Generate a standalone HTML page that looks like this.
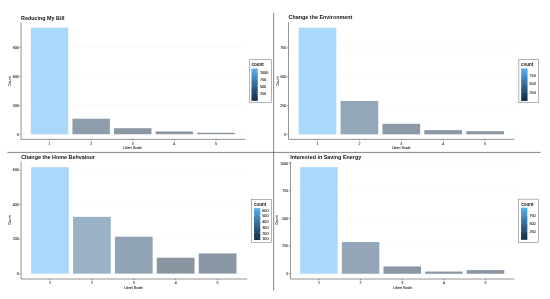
<!DOCTYPE html>
<html><head><meta charset="utf-8"><title>Likert charts</title>
<style>html,body{margin:0;padding:0;background:#fff;overflow:hidden}svg{display:block}</style></head>
<body>
<svg width="550" height="299" viewBox="0 0 550 299">
<defs><linearGradient id="g" x1="0" y1="0" x2="0" y2="1"><stop offset="0.0" stop-color="#56b1f7"/><stop offset="0.1" stop-color="#4fa2e3"/><stop offset="0.2" stop-color="#4894d0"/><stop offset="0.3" stop-color="#4186bd"/><stop offset="0.4" stop-color="#3a78aa"/><stop offset="0.5" stop-color="#336a98"/><stop offset="0.6" stop-color="#2c5d86"/><stop offset="0.7" stop-color="#265075"/><stop offset="0.8" stop-color="#1f4364"/><stop offset="0.9" stop-color="#193753"/><stop offset="1.0" stop-color="#132b43"/></linearGradient></defs>
<rect width="550" height="299" fill="#fff"/>
<line x1="273.65" x2="273.65" y1="13" y2="290.5" stroke="#333" stroke-width="0.6"/>
<line x1="7.4" x2="540.6" y1="152.4" y2="152.4" stroke="#333" stroke-width="0.6"/>
<text x="21" y="19.5" font-size="5.4" font-weight="bold" fill="#111" font-family="Liberation Sans, Arial, sans-serif">Reducing My Bill</text>
<line x1="21.05" x2="246" y1="134.20" y2="134.20" stroke="#f6f6f6" stroke-width="0.6"/>
<line x1="21.05" x2="246" y1="105.20" y2="105.20" stroke="#f6f6f6" stroke-width="0.6"/>
<line x1="21.05" x2="246" y1="76.20" y2="76.20" stroke="#f6f6f6" stroke-width="0.6"/>
<line x1="21.05" x2="246" y1="47.20" y2="47.20" stroke="#f6f6f6" stroke-width="0.6"/>
<rect x="30.83" y="27.67" width="37.44" height="106.53" fill="#aad8fb"/>
<line x1="49.55" x2="49.55" y1="139.4" y2="140.6" stroke="#3a3a3a" stroke-width="0.5"/>
<text x="49.55" y="144.70" font-size="3.6" text-anchor="middle" fill="#333" stroke="#333" stroke-width="0.1" font-family="Liberation Sans, Arial, sans-serif">1</text>
<rect x="72.43" y="118.73" width="37.44" height="15.47" fill="#8d9dac"/>
<line x1="91.15" x2="91.15" y1="139.4" y2="140.6" stroke="#3a3a3a" stroke-width="0.5"/>
<text x="91.15" y="144.70" font-size="3.6" text-anchor="middle" fill="#333" stroke="#333" stroke-width="0.1" font-family="Liberation Sans, Arial, sans-serif">2</text>
<rect x="114.03" y="128.21" width="37.44" height="5.99" fill="#8a98a4"/>
<line x1="132.75" x2="132.75" y1="139.4" y2="140.6" stroke="#3a3a3a" stroke-width="0.5"/>
<text x="132.75" y="144.70" font-size="3.6" text-anchor="middle" fill="#333" stroke="#333" stroke-width="0.1" font-family="Liberation Sans, Arial, sans-serif">3</text>
<rect x="155.63" y="131.49" width="37.44" height="2.71" fill="#8a96a2"/>
<line x1="174.35" x2="174.35" y1="139.4" y2="140.6" stroke="#3a3a3a" stroke-width="0.5"/>
<text x="174.35" y="144.70" font-size="3.6" text-anchor="middle" fill="#333" stroke="#333" stroke-width="0.1" font-family="Liberation Sans, Arial, sans-serif">4</text>
<rect x="197.23" y="132.75" width="37.44" height="1.45" fill="#8995a1"/>
<line x1="215.95" x2="215.95" y1="139.4" y2="140.6" stroke="#3a3a3a" stroke-width="0.5"/>
<text x="215.95" y="144.70" font-size="3.6" text-anchor="middle" fill="#333" stroke="#333" stroke-width="0.1" font-family="Liberation Sans, Arial, sans-serif">5</text>
<path d="M21.05 22.4 V139.4 H245" fill="none" stroke="#3a3a3a" stroke-width="0.55"/>
<line x1="19.45" x2="20.650000000000002" y1="134.50" y2="134.50" stroke="#3a3a3a" stroke-width="0.5"/>
<text x="18.85" y="135.80" font-size="3.6" text-anchor="end" fill="#333" stroke="#333" stroke-width="0.1" font-family="Liberation Sans, Arial, sans-serif">0</text>
<line x1="19.45" x2="20.650000000000002" y1="105.50" y2="105.50" stroke="#3a3a3a" stroke-width="0.5"/>
<text x="18.85" y="106.80" font-size="3.6" text-anchor="end" fill="#333" stroke="#333" stroke-width="0.1" font-family="Liberation Sans, Arial, sans-serif">300</text>
<line x1="19.45" x2="20.650000000000002" y1="76.50" y2="76.50" stroke="#3a3a3a" stroke-width="0.5"/>
<text x="18.85" y="77.80" font-size="3.6" text-anchor="end" fill="#333" stroke="#333" stroke-width="0.1" font-family="Liberation Sans, Arial, sans-serif">600</text>
<line x1="19.45" x2="20.650000000000002" y1="47.50" y2="47.50" stroke="#3a3a3a" stroke-width="0.5"/>
<text x="18.85" y="48.80" font-size="3.6" text-anchor="end" fill="#333" stroke="#333" stroke-width="0.1" font-family="Liberation Sans, Arial, sans-serif">900</text>
<text x="132.33" y="148.90" font-size="3.6" text-anchor="middle" fill="#333" stroke="#333" stroke-width="0.1" font-family="Liberation Sans, Arial, sans-serif">Likert Scale</text>
<text transform="translate(10.8 81.30) rotate(-90)" font-size="3.6" text-anchor="middle" fill="#333" stroke="#333" stroke-width="0.1" font-family="Liberation Sans, Arial, sans-serif">Count</text>
<rect x="249.6" y="59.8" width="21.70" height="42.40" fill="#fff" stroke="#444" stroke-width="0.4"/>
<text x="251.5" y="65.7" font-size="4.5" font-weight="bold" fill="#111" font-family="Liberation Sans, Arial, sans-serif">count</text>
<rect x="251.45" y="68.55" width="6.3" height="32.3" fill="url(#g)"/>
<text x="259.9" y="73.71" font-size="3.75" fill="#2a2a2a" stroke="#333" stroke-width="0.1" font-family="Liberation Sans, Arial, sans-serif">1000</text>
<path d="M251.45 71.81h1.2M257.75 71.81h-1.2" stroke="#fff" stroke-width="0.4" opacity="0.7"/>
<text x="259.9" y="80.84" font-size="3.75" fill="#2a2a2a" stroke="#333" stroke-width="0.1" font-family="Liberation Sans, Arial, sans-serif">750</text>
<path d="M251.45 78.94h1.2M257.75 78.94h-1.2" stroke="#fff" stroke-width="0.4" opacity="0.7"/>
<text x="259.9" y="87.97" font-size="3.75" fill="#2a2a2a" stroke="#333" stroke-width="0.1" font-family="Liberation Sans, Arial, sans-serif">500</text>
<path d="M251.45 86.07h1.2M257.75 86.07h-1.2" stroke="#fff" stroke-width="0.4" opacity="0.7"/>
<text x="259.9" y="95.10" font-size="3.75" fill="#2a2a2a" stroke="#333" stroke-width="0.1" font-family="Liberation Sans, Arial, sans-serif">250</text>
<path d="M251.45 93.20h1.2M257.75 93.20h-1.2" stroke="#fff" stroke-width="0.4" opacity="0.7"/>
<text x="288.6" y="19.3" font-size="5.4" font-weight="bold" fill="#111" font-family="Liberation Sans, Arial, sans-serif">Change the Environment</text>
<line x1="288.5" x2="515.3" y1="134.30" y2="134.30" stroke="#f6f6f6" stroke-width="0.6"/>
<line x1="288.5" x2="515.3" y1="105.50" y2="105.50" stroke="#f6f6f6" stroke-width="0.6"/>
<line x1="288.5" x2="515.3" y1="76.70" y2="76.70" stroke="#f6f6f6" stroke-width="0.6"/>
<line x1="288.5" x2="515.3" y1="47.90" y2="47.90" stroke="#f6f6f6" stroke-width="0.6"/>
<rect x="298.64" y="27.62" width="37.71" height="106.68" fill="#aad8fb"/>
<line x1="317.50" x2="317.50" y1="139.4" y2="140.6" stroke="#3a3a3a" stroke-width="0.5"/>
<text x="317.50" y="144.70" font-size="3.6" text-anchor="middle" fill="#333" stroke="#333" stroke-width="0.1" font-family="Liberation Sans, Arial, sans-serif">1</text>
<rect x="340.54" y="101.01" width="37.71" height="33.29" fill="#92a7b9"/>
<line x1="359.40" x2="359.40" y1="139.4" y2="140.6" stroke="#3a3a3a" stroke-width="0.5"/>
<text x="359.40" y="144.70" font-size="3.6" text-anchor="middle" fill="#333" stroke="#333" stroke-width="0.1" font-family="Liberation Sans, Arial, sans-serif">2</text>
<rect x="382.44" y="123.82" width="37.71" height="10.48" fill="#8b99a6"/>
<line x1="401.30" x2="401.30" y1="139.4" y2="140.6" stroke="#3a3a3a" stroke-width="0.5"/>
<text x="401.30" y="144.70" font-size="3.6" text-anchor="middle" fill="#333" stroke="#333" stroke-width="0.1" font-family="Liberation Sans, Arial, sans-serif">3</text>
<rect x="424.34" y="130.15" width="37.71" height="4.15" fill="#8a96a2"/>
<line x1="443.20" x2="443.20" y1="139.4" y2="140.6" stroke="#3a3a3a" stroke-width="0.5"/>
<text x="443.20" y="144.70" font-size="3.6" text-anchor="middle" fill="#333" stroke="#333" stroke-width="0.1" font-family="Liberation Sans, Arial, sans-serif">4</text>
<rect x="466.25" y="131.19" width="37.71" height="3.11" fill="#8995a1"/>
<line x1="485.10" x2="485.10" y1="139.4" y2="140.6" stroke="#3a3a3a" stroke-width="0.5"/>
<text x="485.10" y="144.70" font-size="3.6" text-anchor="middle" fill="#333" stroke="#333" stroke-width="0.1" font-family="Liberation Sans, Arial, sans-serif">5</text>
<path d="M288.5 22.4 V139.4 H514.3" fill="none" stroke="#3a3a3a" stroke-width="0.55"/>
<line x1="286.9" x2="288.1" y1="134.30" y2="134.30" stroke="#3a3a3a" stroke-width="0.5"/>
<text x="286.3" y="135.60" font-size="3.6" text-anchor="end" fill="#333" stroke="#333" stroke-width="0.1" font-family="Liberation Sans, Arial, sans-serif">0</text>
<line x1="286.9" x2="288.1" y1="105.50" y2="105.50" stroke="#3a3a3a" stroke-width="0.5"/>
<text x="286.3" y="106.80" font-size="3.6" text-anchor="end" fill="#333" stroke="#333" stroke-width="0.1" font-family="Liberation Sans, Arial, sans-serif">250</text>
<line x1="286.9" x2="288.1" y1="76.70" y2="76.70" stroke="#3a3a3a" stroke-width="0.5"/>
<text x="286.3" y="78.00" font-size="3.6" text-anchor="end" fill="#333" stroke="#333" stroke-width="0.1" font-family="Liberation Sans, Arial, sans-serif">500</text>
<line x1="286.9" x2="288.1" y1="47.90" y2="47.90" stroke="#3a3a3a" stroke-width="0.5"/>
<text x="286.3" y="49.20" font-size="3.6" text-anchor="end" fill="#333" stroke="#333" stroke-width="0.1" font-family="Liberation Sans, Arial, sans-serif">750</text>
<text x="401.10" y="148.90" font-size="3.6" text-anchor="middle" fill="#333" stroke="#333" stroke-width="0.1" font-family="Liberation Sans, Arial, sans-serif">Likert Scale</text>
<text transform="translate(279.0 81.30) rotate(-90)" font-size="3.6" text-anchor="middle" fill="#333" stroke="#333" stroke-width="0.1" font-family="Liberation Sans, Arial, sans-serif">Count</text>
<rect x="518.9" y="59.65" width="19.75" height="43.15" fill="#fff" stroke="#444" stroke-width="0.4"/>
<text x="521.0" y="65.8" font-size="4.5" font-weight="bold" fill="#111" font-family="Liberation Sans, Arial, sans-serif">count</text>
<rect x="521.15" y="68.45" width="6.4" height="32.5" fill="url(#g)"/>
<text x="529.5" y="76.57" font-size="3.75" fill="#2a2a2a" stroke="#333" stroke-width="0.1" font-family="Liberation Sans, Arial, sans-serif">750</text>
<path d="M521.15 74.67h1.2M527.55 74.67h-1.2" stroke="#fff" stroke-width="0.4" opacity="0.7"/>
<text x="529.5" y="85.19" font-size="3.75" fill="#2a2a2a" stroke="#333" stroke-width="0.1" font-family="Liberation Sans, Arial, sans-serif">500</text>
<path d="M521.15 83.29h1.2M527.55 83.29h-1.2" stroke="#fff" stroke-width="0.4" opacity="0.7"/>
<text x="529.5" y="93.81" font-size="3.75" fill="#2a2a2a" stroke="#333" stroke-width="0.1" font-family="Liberation Sans, Arial, sans-serif">250</text>
<path d="M521.15 91.91h1.2M527.55 91.91h-1.2" stroke="#fff" stroke-width="0.4" opacity="0.7"/>
<text x="21.2" y="158.9" font-size="5.4" font-weight="bold" fill="#111" font-family="Liberation Sans, Arial, sans-serif">Change the Home Behvaiour</text>
<line x1="21.05" x2="248.2" y1="273.60" y2="273.60" stroke="#f6f6f6" stroke-width="0.6"/>
<line x1="21.05" x2="248.2" y1="239.10" y2="239.10" stroke="#f6f6f6" stroke-width="0.6"/>
<line x1="21.05" x2="248.2" y1="204.60" y2="204.60" stroke="#f6f6f6" stroke-width="0.6"/>
<line x1="21.05" x2="248.2" y1="170.10" y2="170.10" stroke="#f6f6f6" stroke-width="0.6"/>
<rect x="31.14" y="167.17" width="37.71" height="106.43" fill="#aad8fb"/>
<line x1="50.00" x2="50.00" y1="279.0" y2="280.2" stroke="#3a3a3a" stroke-width="0.5"/>
<text x="50.00" y="284.30" font-size="3.6" text-anchor="middle" fill="#333" stroke="#333" stroke-width="0.1" font-family="Liberation Sans, Arial, sans-serif">1</text>
<rect x="73.05" y="216.85" width="37.71" height="56.75" fill="#98b2c7"/>
<line x1="91.90" x2="91.90" y1="279.0" y2="280.2" stroke="#3a3a3a" stroke-width="0.5"/>
<text x="91.90" y="284.30" font-size="3.6" text-anchor="middle" fill="#333" stroke="#333" stroke-width="0.1" font-family="Liberation Sans, Arial, sans-serif">2</text>
<rect x="114.95" y="236.69" width="37.71" height="36.91" fill="#90a3b4"/>
<line x1="133.80" x2="133.80" y1="279.0" y2="280.2" stroke="#3a3a3a" stroke-width="0.5"/>
<text x="133.80" y="284.30" font-size="3.6" text-anchor="middle" fill="#333" stroke="#333" stroke-width="0.1" font-family="Liberation Sans, Arial, sans-serif">3</text>
<rect x="156.84" y="257.73" width="37.71" height="15.87" fill="#8995a1"/>
<line x1="175.70" x2="175.70" y1="279.0" y2="280.2" stroke="#3a3a3a" stroke-width="0.5"/>
<text x="175.70" y="284.30" font-size="3.6" text-anchor="middle" fill="#333" stroke="#333" stroke-width="0.1" font-family="Liberation Sans, Arial, sans-serif">4</text>
<rect x="198.75" y="253.42" width="37.71" height="20.18" fill="#8a98a5"/>
<line x1="217.60" x2="217.60" y1="279.0" y2="280.2" stroke="#3a3a3a" stroke-width="0.5"/>
<text x="217.60" y="284.30" font-size="3.6" text-anchor="middle" fill="#333" stroke="#333" stroke-width="0.1" font-family="Liberation Sans, Arial, sans-serif">5</text>
<path d="M21.05 161.5 V279.0 H247.2" fill="none" stroke="#3a3a3a" stroke-width="0.55"/>
<line x1="19.45" x2="20.650000000000002" y1="273.60" y2="273.60" stroke="#3a3a3a" stroke-width="0.5"/>
<text x="18.85" y="274.90" font-size="3.6" text-anchor="end" fill="#333" stroke="#333" stroke-width="0.1" font-family="Liberation Sans, Arial, sans-serif">0</text>
<line x1="19.45" x2="20.650000000000002" y1="239.10" y2="239.10" stroke="#3a3a3a" stroke-width="0.5"/>
<text x="18.85" y="240.40" font-size="3.6" text-anchor="end" fill="#333" stroke="#333" stroke-width="0.1" font-family="Liberation Sans, Arial, sans-serif">200</text>
<line x1="19.45" x2="20.650000000000002" y1="204.60" y2="204.60" stroke="#3a3a3a" stroke-width="0.5"/>
<text x="18.85" y="205.90" font-size="3.6" text-anchor="end" fill="#333" stroke="#333" stroke-width="0.1" font-family="Liberation Sans, Arial, sans-serif">400</text>
<line x1="19.45" x2="20.650000000000002" y1="170.10" y2="170.10" stroke="#3a3a3a" stroke-width="0.5"/>
<text x="18.85" y="171.40" font-size="3.6" text-anchor="end" fill="#333" stroke="#333" stroke-width="0.1" font-family="Liberation Sans, Arial, sans-serif">600</text>
<text x="133.43" y="288.95" font-size="3.6" text-anchor="middle" fill="#333" stroke="#333" stroke-width="0.1" font-family="Liberation Sans, Arial, sans-serif">Likert Scale</text>
<text transform="translate(11.2 220.25) rotate(-90)" font-size="3.6" text-anchor="middle" fill="#333" stroke="#333" stroke-width="0.1" font-family="Liberation Sans, Arial, sans-serif">Count</text>
<rect x="251.4" y="199.2" width="19.80" height="43.10" fill="#fff" stroke="#444" stroke-width="0.4"/>
<text x="254.1" y="205.65" font-size="4.5" font-weight="bold" fill="#111" font-family="Liberation Sans, Arial, sans-serif">count</text>
<rect x="254.00" y="208.10" width="6.3" height="31.95" fill="url(#g)"/>
<text x="262.25" y="211.67" font-size="3.75" fill="#2a2a2a" stroke="#333" stroke-width="0.1" font-family="Liberation Sans, Arial, sans-serif">600</text>
<path d="M254.00 209.77h1.2M260.30 209.77h-1.2" stroke="#fff" stroke-width="0.4" opacity="0.7"/>
<text x="262.25" y="217.39" font-size="3.75" fill="#2a2a2a" stroke="#333" stroke-width="0.1" font-family="Liberation Sans, Arial, sans-serif">500</text>
<path d="M254.00 215.49h1.2M260.30 215.49h-1.2" stroke="#fff" stroke-width="0.4" opacity="0.7"/>
<text x="262.25" y="223.10" font-size="3.75" fill="#2a2a2a" stroke="#333" stroke-width="0.1" font-family="Liberation Sans, Arial, sans-serif">400</text>
<path d="M254.00 221.20h1.2M260.30 221.20h-1.2" stroke="#fff" stroke-width="0.4" opacity="0.7"/>
<text x="262.25" y="228.81" font-size="3.75" fill="#2a2a2a" stroke="#333" stroke-width="0.1" font-family="Liberation Sans, Arial, sans-serif">300</text>
<path d="M254.00 226.91h1.2M260.30 226.91h-1.2" stroke="#fff" stroke-width="0.4" opacity="0.7"/>
<text x="262.25" y="234.53" font-size="3.75" fill="#2a2a2a" stroke="#333" stroke-width="0.1" font-family="Liberation Sans, Arial, sans-serif">200</text>
<path d="M254.00 232.63h1.2M260.30 232.63h-1.2" stroke="#fff" stroke-width="0.4" opacity="0.7"/>
<text x="262.25" y="240.24" font-size="3.75" fill="#2a2a2a" stroke="#333" stroke-width="0.1" font-family="Liberation Sans, Arial, sans-serif">100</text>
<path d="M254.00 238.34h1.2M260.30 238.34h-1.2" stroke="#fff" stroke-width="0.4" opacity="0.7"/>
<text x="290.2" y="158.7" font-size="5.4" font-weight="bold" fill="#111" font-family="Liberation Sans, Arial, sans-serif">Interested in Saving Energy</text>
<line x1="290.5" x2="515.5" y1="273.75" y2="273.75" stroke="#f6f6f6" stroke-width="0.6"/>
<line x1="290.5" x2="515.5" y1="246.14" y2="246.14" stroke="#f6f6f6" stroke-width="0.6"/>
<line x1="290.5" x2="515.5" y1="218.53" y2="218.53" stroke="#f6f6f6" stroke-width="0.6"/>
<line x1="290.5" x2="515.5" y1="190.91" y2="190.91" stroke="#f6f6f6" stroke-width="0.6"/>
<line x1="290.5" x2="515.5" y1="163.30" y2="163.30" stroke="#f6f6f6" stroke-width="0.6"/>
<rect x="300.21" y="167.06" width="37.48" height="106.69" fill="#aad8fb"/>
<line x1="318.95" x2="318.95" y1="279.0" y2="280.2" stroke="#3a3a3a" stroke-width="0.5"/>
<text x="318.95" y="284.30" font-size="3.6" text-anchor="middle" fill="#333" stroke="#333" stroke-width="0.1" font-family="Liberation Sans, Arial, sans-serif">1</text>
<rect x="341.86" y="242.05" width="37.48" height="31.70" fill="#92a6b8"/>
<line x1="360.60" x2="360.60" y1="279.0" y2="280.2" stroke="#3a3a3a" stroke-width="0.5"/>
<text x="360.60" y="284.30" font-size="3.6" text-anchor="middle" fill="#333" stroke="#333" stroke-width="0.1" font-family="Liberation Sans, Arial, sans-serif">2</text>
<rect x="383.51" y="266.46" width="37.48" height="7.29" fill="#8a98a5"/>
<line x1="402.25" x2="402.25" y1="279.0" y2="280.2" stroke="#3a3a3a" stroke-width="0.5"/>
<text x="402.25" y="284.30" font-size="3.6" text-anchor="middle" fill="#333" stroke="#333" stroke-width="0.1" font-family="Liberation Sans, Arial, sans-serif">3</text>
<rect x="425.16" y="271.54" width="37.48" height="2.21" fill="#8995a1"/>
<line x1="443.90" x2="443.90" y1="279.0" y2="280.2" stroke="#3a3a3a" stroke-width="0.5"/>
<text x="443.90" y="284.30" font-size="3.6" text-anchor="middle" fill="#333" stroke="#333" stroke-width="0.1" font-family="Liberation Sans, Arial, sans-serif">4</text>
<rect x="466.81" y="270.11" width="37.48" height="3.64" fill="#8a96a2"/>
<line x1="485.55" x2="485.55" y1="279.0" y2="280.2" stroke="#3a3a3a" stroke-width="0.5"/>
<text x="485.55" y="284.30" font-size="3.6" text-anchor="middle" fill="#333" stroke="#333" stroke-width="0.1" font-family="Liberation Sans, Arial, sans-serif">5</text>
<path d="M290.5 161.5 V279.0 H514.5" fill="none" stroke="#3a3a3a" stroke-width="0.55"/>
<line x1="288.9" x2="290.1" y1="273.75" y2="273.75" stroke="#3a3a3a" stroke-width="0.5"/>
<text x="288.3" y="275.05" font-size="3.6" text-anchor="end" fill="#333" stroke="#333" stroke-width="0.1" font-family="Liberation Sans, Arial, sans-serif">0</text>
<line x1="288.9" x2="290.1" y1="246.14" y2="246.14" stroke="#3a3a3a" stroke-width="0.5"/>
<text x="288.3" y="247.44" font-size="3.6" text-anchor="end" fill="#333" stroke="#333" stroke-width="0.1" font-family="Liberation Sans, Arial, sans-serif">250</text>
<line x1="288.9" x2="290.1" y1="218.53" y2="218.53" stroke="#3a3a3a" stroke-width="0.5"/>
<text x="288.3" y="219.83" font-size="3.6" text-anchor="end" fill="#333" stroke="#333" stroke-width="0.1" font-family="Liberation Sans, Arial, sans-serif">500</text>
<line x1="288.9" x2="290.1" y1="190.91" y2="190.91" stroke="#3a3a3a" stroke-width="0.5"/>
<text x="288.3" y="192.21" font-size="3.6" text-anchor="end" fill="#333" stroke="#333" stroke-width="0.1" font-family="Liberation Sans, Arial, sans-serif">750</text>
<line x1="288.9" x2="290.1" y1="163.30" y2="163.30" stroke="#3a3a3a" stroke-width="0.5"/>
<text x="288.3" y="164.60" font-size="3.6" text-anchor="end" fill="#333" stroke="#333" stroke-width="0.1" font-family="Liberation Sans, Arial, sans-serif">1000</text>
<text x="402.50" y="289.00" font-size="3.6" text-anchor="middle" fill="#333" stroke="#333" stroke-width="0.1" font-family="Liberation Sans, Arial, sans-serif">Likert Scale</text>
<text transform="translate(278.2 220.25) rotate(-90)" font-size="3.6" text-anchor="middle" fill="#333" stroke="#333" stroke-width="0.1" font-family="Liberation Sans, Arial, sans-serif">Count</text>
<rect x="518.8" y="199.1" width="19.70" height="43.35" fill="#fff" stroke="#444" stroke-width="0.4"/>
<text x="521.25" y="205.65" font-size="4.5" font-weight="bold" fill="#111" font-family="Liberation Sans, Arial, sans-serif">count</text>
<rect x="521.05" y="207.60" width="6.3" height="32.2" fill="url(#g)"/>
<text x="529.4" y="216.99" font-size="3.75" fill="#2a2a2a" stroke="#333" stroke-width="0.1" font-family="Liberation Sans, Arial, sans-serif">750</text>
<path d="M521.05 215.09h1.2M527.35 215.09h-1.2" stroke="#fff" stroke-width="0.4" opacity="0.7"/>
<text x="529.4" y="225.07" font-size="3.75" fill="#2a2a2a" stroke="#333" stroke-width="0.1" font-family="Liberation Sans, Arial, sans-serif">500</text>
<path d="M521.05 223.17h1.2M527.35 223.17h-1.2" stroke="#fff" stroke-width="0.4" opacity="0.7"/>
<text x="529.4" y="233.16" font-size="3.75" fill="#2a2a2a" stroke="#333" stroke-width="0.1" font-family="Liberation Sans, Arial, sans-serif">250</text>
<path d="M521.05 231.26h1.2M527.35 231.26h-1.2" stroke="#fff" stroke-width="0.4" opacity="0.7"/>
</svg>
</body></html>
